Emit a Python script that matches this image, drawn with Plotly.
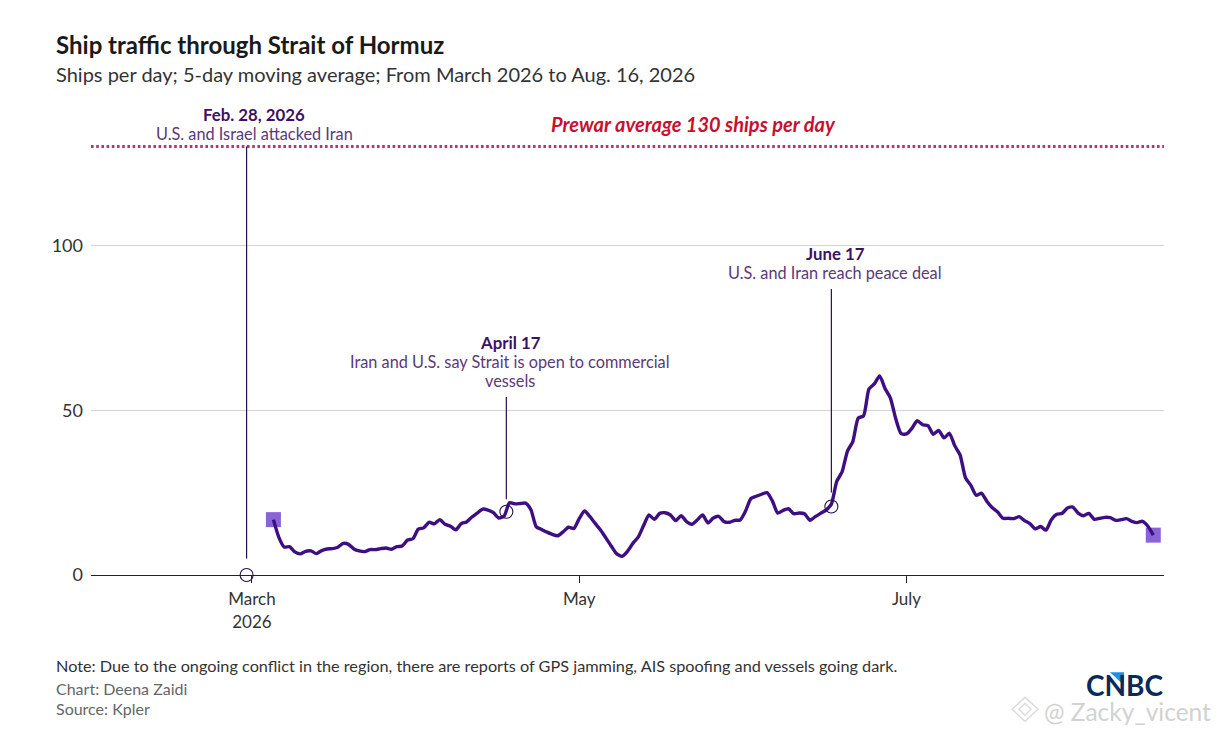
import pandas as pd
import plotly.graph_objects as go

# Ships per day, one value per day from March 5 to Aug. 16, 2026
ships = [
    16.8, 11.5, 8.5, 8.6, 7.0, 6.4, 7.2, 7.3, 6.5, 7.4, 7.9, 8.0, 8.4, 9.6, 9.3, 7.9, 7.3, 7.1, 7.7, 7.7,
    8.0, 8.2, 7.8, 8.6, 8.8, 10.6, 11, 13.9, 14.3, 16, 15.5, 16.8, 15.4, 14.8, 13.7, 15.6, 16.1, 17.6, 18.8, 20,
    19.7, 18.9, 17.3, 17.9, 21.9, 21.6, 21.7, 21.8, 19.8, 14.6, 13.8, 13.0, 12.3, 11.9, 13.1, 14.5, 14.1, 17.1, 19.4, 17.7,
    15.6, 13.6, 11.2, 8.7, 6.4, 5.7, 7.2, 9.6, 11.5, 15, 18.2, 16.9, 18.7, 18.9, 18.2, 16.5, 18, 16.2, 15.4, 16.7,
    18.2, 15.8, 17.3, 17.8, 16.2, 16, 16.6, 16.7, 19.4, 23.2, 23.9, 24.5, 25, 22.5, 18.8, 19.6, 20.1, 18.6, 18.8, 18.6,
    16.6, 17.7, 18.7, 19.7, 21.5, 28.4, 31.3, 37.6, 40.5, 47.6, 48.3, 56.4, 58, 60.4, 56.6, 53.7, 47.4, 42.9, 42.8, 44.5,
    46.8, 45.6, 45.3, 42.7, 43.9, 41.6, 43, 39.2, 36.4, 29.5, 27.2, 24.2, 24.8, 22.3, 20.4, 19.1, 17.2, 17.2, 17.1, 17.7,
    16.5, 15.6, 14, 14.7, 13.6, 16.8, 18.4, 18.7, 20.3, 20.6, 18.8, 18, 18.7, 16.9, 17.2, 17.5, 17.4, 16.6, 16.8, 17.1,
    16.3, 15.9, 16.3, 14.8, 12.1,
]
dates = pd.date_range('2026-03-05', '2026-08-16')

prewar_avg = 130
x_range = ['2026-01-30', '2026-08-18']
x_ticks = ['2026-03-01', '2026-05-01', '2026-07-01']
x_tick_labels = ['March<br>2026', 'May', 'July']
y_ticks = [0, 50, 100]

# Events: date, circle value, top of the stem, bottom of the stem
event_dates = ['2026-02-28', '2026-04-17 10:00', '2026-06-17']
event_values = [0, 19.2, 20.8]
stem_tops = [130, 54, 86.8]
stem_bottoms = [5, 23, 25]

FONT = 'Lato'
LINE = '#3d0f82'
DARK = '#3b1164'
ANNOT = '#5a3a78'

# Plot area in pixels, used to place the text outside the axes
L, R, T, B = 91, 1164, 139.9, 575.5


def text(px, py, s, size, color, anchor='left'):
    return dict(x=(px - L) / (R - L), y=(B - py) / (B - T), xref='paper', yref='paper', text=s, showarrow=False,
                xanchor=anchor, yanchor='middle', align=anchor, font=dict(family=FONT, size=size, color=color))


def poly(points, **style):
    # closed outline given in picture pixels
    coords = [f'{(x - L) / (R - L)},{(B - y) / (B - T)}' for x, y in points]
    return dict(type='path', xref='paper', yref='paper', path='M' + ' L'.join(coords) + ' Z', **style)


fig = go.Figure()

# Prewar average
fig.add_trace(go.Scatter(x=x_range, y=[prewar_avg, prewar_avg], mode='lines',
                         line=dict(color='#c2306b', width=3, dash='2.6px,2.6px')))

# Event stems
for d, top, bottom in zip(event_dates, stem_tops, stem_bottoms):
    fig.add_trace(go.Scatter(x=[d, d], y=[bottom, top], mode='lines', line=dict(color='#2a0f4f', width=1.2)))

# End squares
fig.add_trace(go.Scatter(x=[dates[0], dates[-1]], y=[ships[0], ships[-1]], mode='markers', cliponaxis=False,
                         marker=dict(symbol='square', size=15, color='#8a63d6', line=dict(width=0))))

# Main line
fig.add_trace(go.Scatter(x=dates, y=ships, mode='lines', line=dict(color=LINE, width=3.4, shape='spline', smoothing=0.6),
                         cliponaxis=False))

# Event circles
fig.add_trace(go.Scatter(x=event_dates, y=event_values, mode='markers', cliponaxis=False,
                         marker=dict(symbol='circle-open', size=13, color='#2a0f4f', line=dict(width=1.1, color='#2a0f4f'))))

annotations = [
    text(54, 44, '<b>Ship traffic through Strait of Hormuz</b>', 24, '#1a1a1a'),
    text(54, 74, 'Ships per day; 5-day moving average; From March 2026 to Aug. 16, 2026', 20, '#333333'),
    text(254, 114, '<b>Feb. 28, 2026</b>', 16.8, DARK, 'center'),
    text(254, 133, 'U.S. and Israel attacked Iran', 16.3, ANNOT, 'center'),
    text(693, 124, '<b><i>Prewar average 130 ships per day</i></b>', 20, '#c8102e', 'center'),
    text(835, 254, '<b>June 17</b>', 16.8, DARK, 'center'),
    text(835, 273, 'U.S. and Iran reach peace deal', 16.3, ANNOT, 'center'),
    text(510, 343, '<b>April 17</b>', 16.8, DARK, 'center'),
    text(510, 362, 'Iran and U.S. say Strait is open to commercial', 16.3, ANNOT, 'center'),
    text(510, 381, 'vessels', 16.3, ANNOT, 'center'),
    text(54, 666, 'Note: Due to the ongoing conflict in the region, there are reports of GPS jamming, AIS spoofing and vessels going dark.', 16.25, '#333333'),
    text(54, 689, 'Chart: Deena Zaidi', 16, '#666666'),
    text(54, 709, 'Source: Kpler', 16, '#666666'),
    text(1125, 686, '<b>CNBC</b>', 28, '#0b2a55', 'center'),
    text(1042, 712, '@ Zacky_vicent', 24.5, '#d2d2d2'),
]

# CNBC mark and the watermark's icon
shapes = [
    poly([(1110, 673), (1124, 673), (1124, 686)], fillcolor='#1f8fe5', line=dict(width=0)),
    poly([(1012, 710), (1025, 698), (1038, 710), (1025, 722)], fillcolor='rgba(0,0,0,0)', line=dict(color='#dcdcdc', width=1.5)),
    poly([(1019, 710), (1025, 704), (1031, 710), (1025, 716)], fillcolor='rgba(0,0,0,0)', line=dict(color='#dcdcdc', width=1.5)),
]

fig.update_layout(
    width=1220,
    height=734,
    margin=dict(l=L, r=1220 - R, t=T, b=734 - B),
    paper_bgcolor='white',
    plot_bgcolor='white',
    showlegend=False,
    font=dict(family=FONT, size=17, color='#333333'),
    annotations=annotations,
    shapes=shapes,
)

fig.update_xaxes(range=x_range, tickvals=x_ticks, ticktext=x_tick_labels, showgrid=False, ticks='outside',
                 ticklen=7, tickcolor='#222222', showline=False, zeroline=False, tickfont=dict(size=17),
                 ticklabelstandoff=2)
fig.update_yaxes(range=[0, 132], tickvals=y_ticks, showgrid=True, gridcolor='#d4d4d4', gridwidth=1,
                 zeroline=True, zerolinecolor='#222222', zerolinewidth=1.2, showline=False, ticks='', ticklabelstandoff=7,
                 tickfont=dict(size=18))

fig.write_html("out.html", config=dict(displayModeBar=False),
               post_script="document.body.style.margin='0';document.documentElement.style.overflow='hidden';")
